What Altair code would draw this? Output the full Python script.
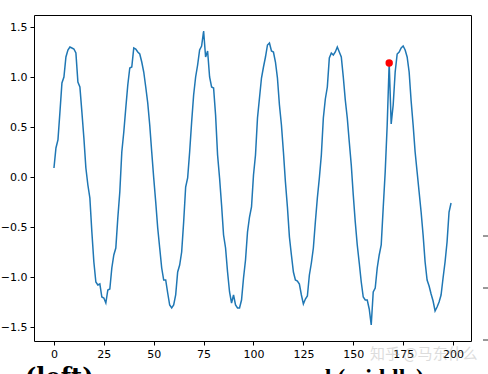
import altair as alt
import pandas as pd

# Series values (index 0..199)
values = [
    0.09, 0.29, 0.37, 0.65, 0.94, 1.00, 1.20, 1.27, 1.30, 1.29,
    1.28, 1.24, 0.95, 0.90, 0.65, 0.39, 0.09, -0.08, -0.21, -0.55,
    -0.85, -1.05, -1.08, -1.07, -1.20, -1.21, -1.26, -1.13, -1.12, -0.91,
    -0.78, -0.71, -0.41, -0.15, 0.25, 0.45, 0.69, 0.92, 1.09, 1.10,
    1.29, 1.28, 1.25, 1.23, 1.15, 1.05, 0.90, 0.74, 0.52, 0.25,
    -0.01, -0.25, -0.51, -0.71, -0.91, -1.03, -1.03, -1.16, -1.28, -1.31,
    -1.28, -1.18, -0.95, -0.88, -0.75, -0.45, -0.10, -0.01, 0.25, 0.55,
    0.82, 1.00, 1.12, 1.27, 1.31, 1.46, 1.20, 1.26, 1.00, 0.90,
    0.89, 0.62, 0.22, -0.01, -0.28, -0.58, -0.71, -0.95, -1.15, -1.26,
    -1.18, -1.28, -1.31, -1.31, -1.23, -1.01, -0.83, -0.55, -0.40, -0.30,
    0.02, 0.22, 0.59, 0.79, 0.99, 1.10, 1.20, 1.32, 1.34, 1.26,
    1.25, 1.15, 0.99, 0.72, 0.52, 0.25, -0.05, -0.30, -0.60, -0.78,
    -0.95, -1.03, -1.04, -1.07, -1.18, -1.27, -1.22, -1.19, -0.98, -0.86,
    -0.71, -0.45, -0.21, -0.01, 0.22, 0.59, 0.78, 0.90, 1.19, 1.24,
    1.22, 1.25, 1.30, 1.25, 1.20, 1.00, 0.77, 0.59, 0.35, 0.12,
    -0.18, -0.45, -0.68, -0.86, -1.05, -1.20, -1.23, -1.23, -1.32, -1.48,
    -1.15, -1.11, -0.91, -0.78, -0.68, -0.31, 0.05, 0.52, 1.14, 0.53,
    0.72, 1.05, 1.23, 1.25, 1.29, 1.31, 1.27, 1.20, 1.05, 0.76,
    0.52, 0.25, 0.05, -0.15, -0.35, -0.58, -0.85, -1.03, -1.09, -1.17,
    -1.24, -1.34, -1.30, -1.25, -1.18, -1.01, -0.85, -0.65, -0.35, -0.26,
]
steps = list(range(len(values)))

# Highlighted anomaly point
anomaly_x = [168]
anomaly_y = [1.14]

x_ticks = [0, 25, 50, 75, 100, 125, 150, 175, 200]
y_ticks = [-1.5, -1.0, -0.5, 0.0, 0.5, 1.0, 1.5]

df = pd.DataFrame({"t": steps, "v": values})
df_pt = pd.DataFrame({"t": anomaly_x, "v": anomaly_y})

W, H = 437, 326

x_scale = alt.Scale(domain=[-10, 209], nice=False, zero=False)
y_scale = alt.Scale(domain=[-1.64, 1.62], nice=False, zero=False)

x_axis = alt.Axis(values=x_ticks, title=None, grid=False, domain=False,
                  tickSize=4, tickColor="#000", labelFontSize=11,
                  labelFont="DejaVu Sans", labelColor="#000", labelPadding=3,
                  labelFlush=False, labelOverlap=False)
y_axis = alt.Axis(values=y_ticks, title=None, grid=False, domain=False,
                  tickSize=4, tickColor="#000", labelFontSize=11,
                  labelFont="DejaVu Sans", labelColor="#000", labelPadding=3,
                  format=".1f", labelFlush=False, labelOverlap=False)

line = alt.Chart(df).mark_line(color="#1f77b4", strokeWidth=1.5).encode(
    x=alt.X("t:Q", scale=x_scale, axis=x_axis),
    y=alt.Y("v:Q", scale=y_scale, axis=y_axis),
)

point = alt.Chart(df_pt).mark_circle(color="red", size=55, opacity=1).encode(
    x=alt.X("t:Q", scale=x_scale),
    y=alt.Y("v:Q", scale=y_scale),
)

# tick stubs of the neighbouring panel on the right edge
stub_y = [221, 273, 325]
stubs = [
    alt.Chart(pd.DataFrame({"a": [0]})).mark_rule(color="#333", strokeWidth=1).encode(
        x=alt.value(449), x2=alt.value(460), y=alt.value(yy)
    )
    for yy in stub_y
]

cap_left = alt.Chart(pd.DataFrame({"a": [0]})).mark_text(
    text="(left)", font="DejaVu Serif", fontWeight="bold", fontSize=24,
    align="left", baseline="alphabetic", color="#000"
).encode(x=alt.value(-9), y=alt.value(370))

cap_mid = alt.Chart(pd.DataFrame({"a": [0]})).mark_text(
    text="and (middle)", font="Liberation Serif", fontWeight="bold", fontSize=24,
    align="right", baseline="alphabetic", color="#000"
).encode(x=alt.value(390), y=alt.value(370))

watermark = alt.Chart(pd.DataFrame({"a": [0]})).mark_text(
    text="知乎 @马东什么", font="Noto Sans CJK SC", fontSize=15,
    align="left", baseline="middle", color="#aaa", opacity=0.4
).encode(x=alt.value(336), y=alt.value(339))

chart = alt.layer(line, point, *stubs, cap_left, cap_mid, watermark).properties(
    width=W, height=H,
    autosize=alt.AutoSizeParams(type="none"),
    padding={"left": 34, "top": 15, "right": 17, "bottom": 33},
).configure(background="white").configure_view(stroke="#000", strokeWidth=1)

chart.save("out.html", embed_options={"renderer": "svg", "actions": False})
